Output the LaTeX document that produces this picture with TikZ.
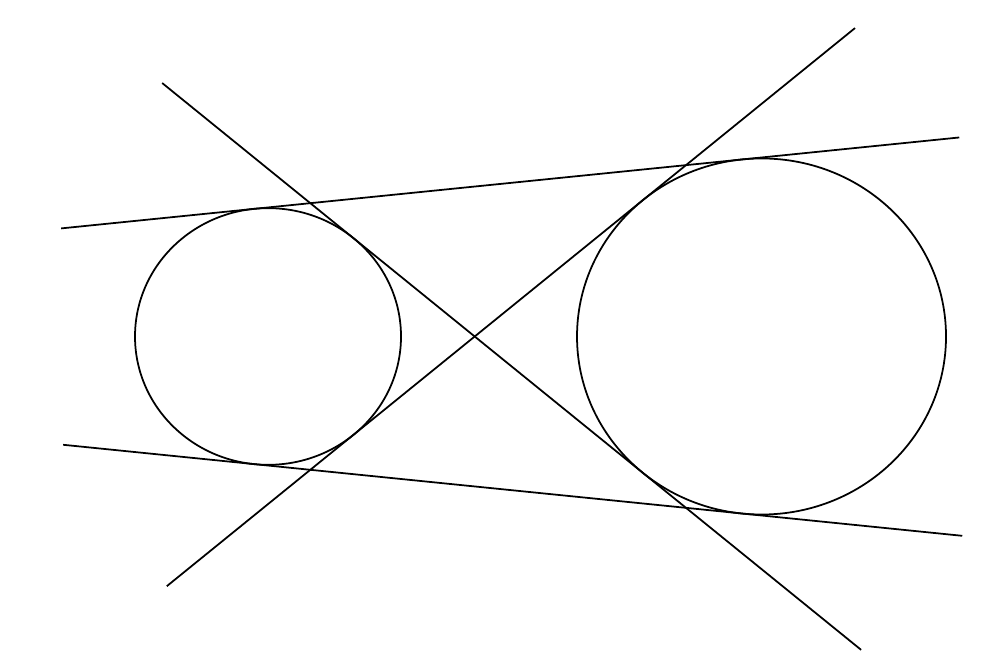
\documentclass[tikz,border=0pt]{standalone}
\usetikzlibrary{calc}
\begin{document}
\begin{tikzpicture}
			\useasboundingbox (0,0) rectangle (10,6.56);
			\begin{scope}[shift={(0,3.195)}, yscale=0.965, line width=0.5pt]
			\pgfmathsetmacro{\ra}{1.33}
			\pgfmathsetmacro{\rb}{1.845}
			\pgfmathsetmacro{\dd}{4.935}
			\pgfmathsetmacro{\al}{asin((\rb-\ra)/\dd)}
			\pgfmathsetmacro{\ga}{acos((\ra+\rb)/\dd)}
			\coordinate (O1) at (2.68,0);
			\coordinate (O2) at (2.68+\dd,0);
			\draw (O1) circle (\ra);
			\draw (O2) circle (\rb);
			% outer tangents
			\coordinate (Pu) at ($(O1)+(90+\al:\ra)$);
			\coordinate (Pd) at ($(O1)+(-90-\al:\ra)$);
			\coordinate (Pu0) at ($(Pu)+(180+\al:1.94)$);
			\coordinate (Pu1) at ($(Pu)+(\al:7.09)$);
			\coordinate (Pd0) at ($(Pd)+(180-\al:1.92)$);
			\coordinate (Pd1) at ($(Pd)+(-\al:7.12)$);
			\draw (Pu0) -- (Pu1);
			\draw (Pd0) -- (Pd1);
			% inner tangents
			\coordinate (Qu) at ($(O1)+(\ga:\ra)$);
			\coordinate (Qd) at ($(O1)+(-\ga:\ra)$);
			\coordinate (Qu0) at ($(Qu)+(180-90+\ga:2.50)$);
			\coordinate (Qu1) at ($(Qu)+(\ga-90:6.63)$);
			\coordinate (Qd0) at ($(Qd)+(180+90-\ga:2.44)$);
			\coordinate (Qd1) at ($(Qd)+(90-\ga:6.55)$);
			\draw (Qu0) -- (Qu1);
			\draw (Qd0) -- (Qd1);
			\end{scope}
		\end{tikzpicture}
\end{document}
